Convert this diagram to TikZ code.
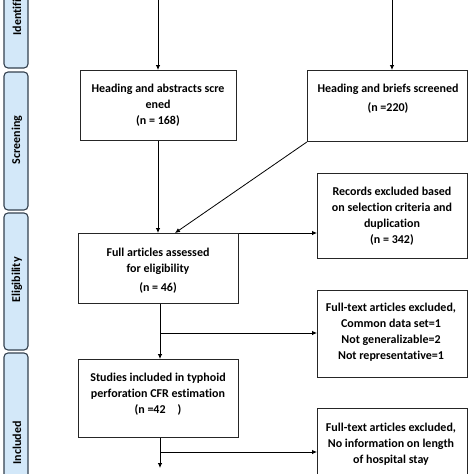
\documentclass[tikz,border=0pt]{standalone}
\usepackage{fontspec}
\setmainfont{Carlito}[Ligatures=NoCommon]
\usetikzlibrary{arrows.meta}
\definecolor{barfill}{HTML}{D3E8F9}
\definecolor{barline}{HTML}{34414F}
\begin{document}
\begin{tikzpicture}[x=1pt,y=-1pt,
  box/.style={draw=black!85,line width=0.9pt,inner sep=0pt,anchor=north west},
  txt/.style={anchor=north,inner sep=0pt,align=center,font=\fontsize{12}{16}\selectfont\bfseries},
  bar/.style={draw=barline,fill=barfill,line width=1.1pt,rounded corners=4pt},
  barlabel/.style={rotate=90,inner sep=0pt,font=\fontsize{12}{14}\selectfont\bfseries},
  conn/.style={draw=black,line width=0.8pt},
  arr/.style={conn,-{Latex[length=5pt,width=4.5pt]}}]
\useasboundingbox (0,0) rectangle (474,474);
\clip (0,0) rectangle (474,474);
% phase bars
\draw[bar] (4,-60) rectangle (28,68);
\draw[bar] (4,72) rectangle (28,210);
\draw[bar] (4,213) rectangle (28,350);
\draw[bar] (4,353) rectangle (28,540);
\node[barlabel] (l1) at (17,2) {Identification};
\node[barlabel] (l2) at (17,140) {Screening};
\node[barlabel] (l3) at (17,280) {Eligibility};
\node[barlabel] (l4) at (17,443) {Included};
% boxes
\node[box,minimum width=156pt,minimum height=70pt] (A) at (80,70) {};
\node[box,minimum width=160pt,minimum height=71pt] (B) at (307,70) {};
\node[box,minimum width=160pt,minimum height=70pt] (C) at (78,233) {};
\node[box,minimum width=150pt,minimum height=85pt] (D) at (317,173) {};
\node[box,minimum width=150pt,minimum height=87pt] (E) at (317,290) {};
\node[box,minimum width=160pt,minimum height=78pt] (F) at (78,359) {};
\node[box,minimum width=150pt,minimum height=90pt] (G) at (317,408) {};
% texts
\node[txt] (At) at (158,84) {Heading and abstracts scre\\ened\\(n = 168)};
\node[txt] (Bt) at (388,84) {Heading and briefs screened\\[3pt](n =220)};
\node[txt] (Ct) at (158,248) {Full articles assessed\\for eligibility\\[3pt](n = 46)};
\node[txt] (Dt) at (392,187) {Records excluded based\\on selection criteria and\\duplication\\(n = 342)};
\node[txt] (Et) at (391,303) {Full-text articles excluded,\\Common data set=1\\Not generalizable=2\\Not representative=1};
\node[txt] (Ft) at (158,373) {Studies included in typhoid\\perforation CFR estimation\\(n =42\quad)};
\node[txt] (Gt) at (391,423) {Full-text articles excluded,\\No information on length\\of hospital stay};
% connectors
\coordinate (topA) at (158,0);
\coordinate (topB) at (392,0);
\coordinate (cin) at (175,233);
\coordinate (b1) at (160,333);
\coordinate (b2) at (160,452);
\coordinate (endF) at (160,468);
\draw[arr] (topA) -- (topA |- A.north);
\draw[arr] (topB) -- (topB |- B.north);
\draw[arr] (A.south -| topA) -- (topA |- C.north);
\draw[arr] (B.south west) -- (cin);
\draw[arr] (C.north east) -- (C.north east -| D.west);
\draw[arr] (b1 |- C.south) -- (b1 |- F.north);
\draw[arr] (b1) -- (b1 -| E.west);
\draw[arr] (b2 |- F.south) -- (endF);
\draw[arr] (b2) -- (b2 -| G.west);
\end{tikzpicture}
\end{document}
